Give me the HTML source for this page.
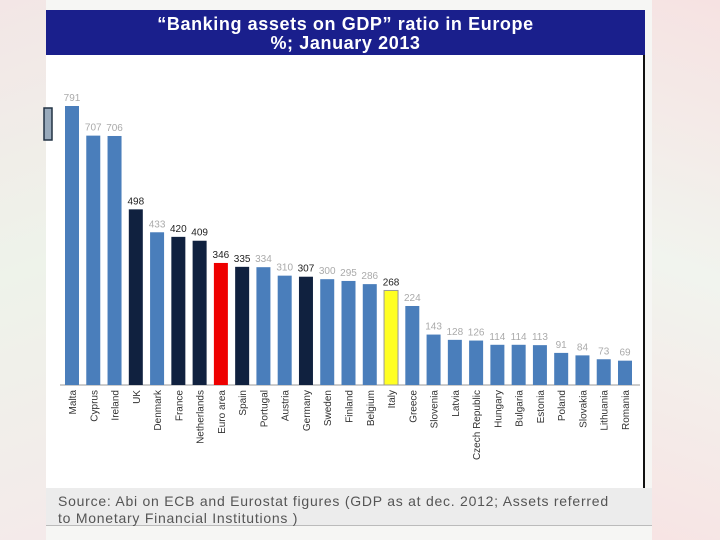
<!DOCTYPE html>
<html><head><meta charset="utf-8"><style>
body{margin:0;width:720px;height:540px;overflow:hidden;background:#f6f6f4;font-family:"Liberation Sans",sans-serif;position:relative}
#bgl{position:absolute;left:0;top:0;width:46px;height:540px;background:linear-gradient(160deg,#f3e6e6,#eef3ea 50%,#f4eaea)}
#bgr{position:absolute;left:652px;top:0;width:68px;height:540px;background:linear-gradient(200deg,#f6e2e2,#f1f4ee 50%,#f7e4e4)}
#title{position:absolute;left:46px;top:10px;width:599px;height:45px;background:#1a1f8c;color:#fff;font-weight:bold;font-size:18px;letter-spacing:0.6px;text-align:center;line-height:19px;padding-top:5px;box-sizing:border-box}
#panel{position:absolute;left:46px;top:55px;width:597px;height:433px;background:#fff;border-right:2px solid #111}
#src{position:absolute;left:46px;top:488px;width:606px;height:38px;background:#ececec;color:#555;font-size:14px;letter-spacing:0.75px;line-height:17px;padding:5px 0 0 12px;box-sizing:border-box;border-bottom:1px solid #bbb}
</style></head><body>
<div id="bgl"></div>
<div id="bgr"></div>
<div id="title">“Banking assets on GDP” ratio in Europe<br>%; January 2013</div>
<div id="panel"></div>
<svg id="chart" width="720" height="540" style="position:absolute;left:0;top:0">
<rect x="44" y="108" width="8" height="32" fill="#9ab" stroke="#234" stroke-width="1.5"/>
</svg>
<div id="src">Source: Abi on ECB and Eurostat figures (GDP as at dec. 2012; Assets referred<br>to Monetary Financial Institutions )</div>
<script>
const countries=["Malta","Cyprus","Ireland","UK","Denmark","France","Netherlands","Euro area","Spain","Portugal","Austria","Germany","Sweden","Finland","Belgium","Italy","Greece","Slovenia","Latvia","Czech Republic","Hungary","Bulgaria","Estonia","Poland","Slovakia","Lithuania","Romania"];
const values=[791,707,706,498,433,420,409,346,335,334,310,307,300,295,286,268,224,143,128,126,114,114,113,91,84,73,69];
const groups=["o","o","o","d","o","d","d","e","d","o","o","d","o","o","o","i","o","o","o","o","o","o","o","o","o","o","o"];
const colors={o:"#4a7ebb",d:"#10213f",e:"#ee0000",i:"#ffff22"};
const svg=document.getElementById('chart');
const NS="http://www.w3.org/2000/svg";
const base=385,scale=279/791,x0=65,step=(618-65)/(countries.length-1),bw=14;
function xPos(i){return x0+i*step;}
function yPos(v){return base-v*scale;}
const ax=document.createElementNS(NS,'line');
ax.setAttribute('x1',60);ax.setAttribute('x2',640);ax.setAttribute('y1',base);ax.setAttribute('y2',base);ax.setAttribute('stroke','#999');


svg.appendChild(ax);
countries.forEach((c,i)=>{
 const r=document.createElementNS(NS,'rect');
 const y=yPos(values[i]);
 r.setAttribute('x',xPos(i));r.setAttribute('y',y);r.setAttribute('width',bw);r.setAttribute('height',base-y);
 r.setAttribute('fill',colors[groups[i]]);
 if(groups[i]==='i')r.setAttribute('stroke','#999');
 
 
 svg.appendChild(r);
 const t=document.createElementNS(NS,'text');
 t.setAttribute('x',xPos(i)+bw/2);t.setAttribute('y',y-5);t.setAttribute('text-anchor','middle');
 t.setAttribute('font-size','10');t.setAttribute('font-family','Liberation Sans, sans-serif');
 t.setAttribute('fill',groups[i]==='o'?'#aaa':'#222');
 t.textContent=values[i];
 
 
 svg.appendChild(t);
 const l=document.createElementNS(NS,'text');
 const lx=xPos(i)+bw/2+4,ly=390;
 l.setAttribute('x',lx);l.setAttribute('y',ly);l.setAttribute('text-anchor','end');
 l.setAttribute('transform','rotate(-90 '+lx+' '+ly+')');
 l.setAttribute('font-size','10');l.setAttribute('font-family','Liberation Sans, sans-serif');l.setAttribute('fill','#333');
 l.textContent=c;
 
 
 svg.appendChild(l);
});
</script>
</body></html>
